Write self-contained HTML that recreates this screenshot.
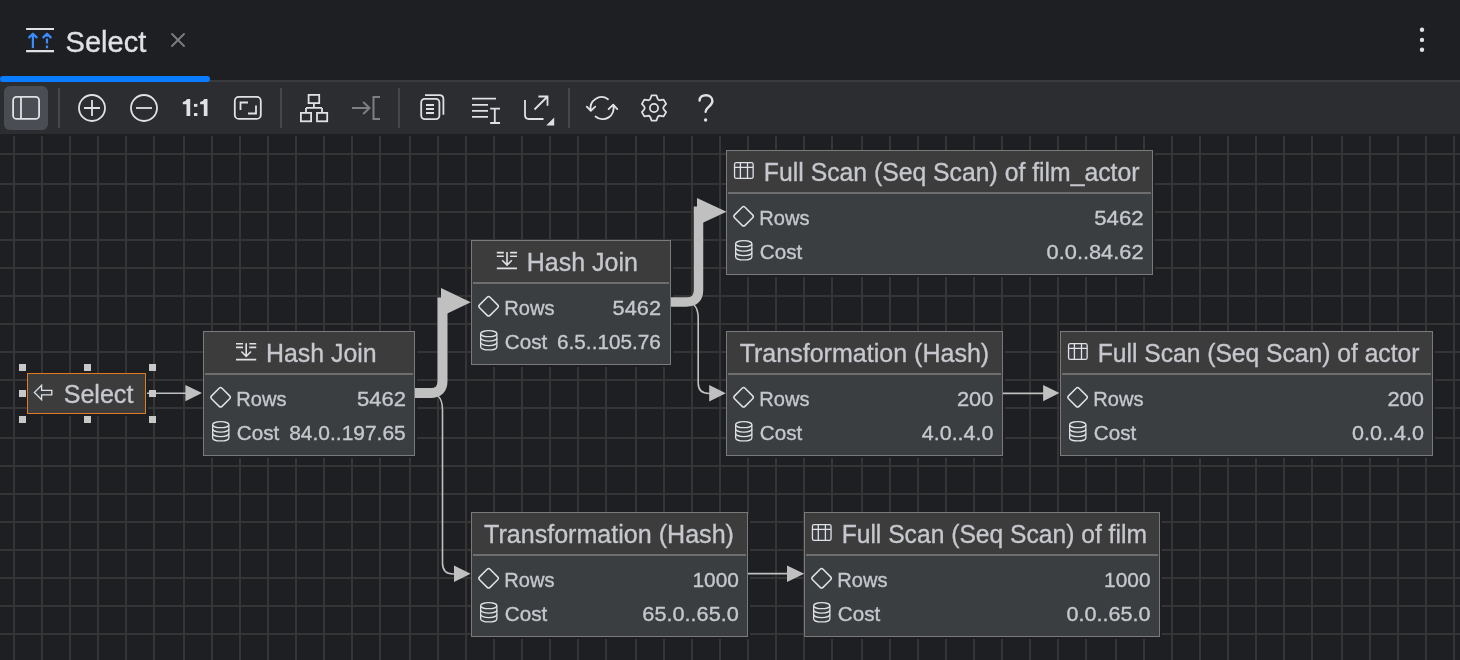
<!DOCTYPE html><html><head><meta charset="utf-8"><style>
*{box-sizing:border-box}
html,body{margin:0;padding:0}
body{width:1460px;height:660px;overflow:hidden;position:relative;background:#1e1f22;font-family:"Liberation Sans",sans-serif}
.abs{position:absolute}
.node{position:absolute;background:#3a3e41;border:1.5px solid #7a7a7a;box-shadow:2px 2px 0 #1e1f22}
.hdr{position:absolute;left:0;top:0;right:0;height:41px;background:#3c3c3c}
.sep{position:absolute;left:1px;right:1px;top:41px;height:2px;background:#6e6e6e}
.ico{position:absolute}
text{font-family:"Liberation Sans",sans-serif}
</style></head><body>
<div class="abs" style="left:0;top:0;width:1460px;height:80px;background:#1e1f22"></div>
<svg class="abs" style="left:0;top:0" width="70" height="70" viewBox="0 0 70 70"><g stroke="#dfe1e5" stroke-width="2.2" fill="none"><path d="M26.1 29 H54 M26.1 51.1 H54"/></g><g stroke="#3a8dff" stroke-width="2.2" fill="none" stroke-linecap="round" stroke-linejoin="round"><path d="M32.9 47.2 V34.2 M29.2 37.4 L32.9 33.7 L36.6 37.4"/><path d="M43.3 37.4 L47 33.7 L50.7 37.4"/></g><path d="M47 34 V36.8 M47 38.6 V43.4 M47 45.4 V48.3" stroke="#3a8dff" stroke-width="2.2" fill="none"/></svg>
<svg class="abs" style="left:169px;top:31px" width="18" height="18" viewBox="0 0 18 18"><path d="M3 3 L15 15 M15 3 L3 15" stroke="#7d7f84" stroke-width="1.8" stroke-linecap="round"/></svg>
<div class="abs" style="left:0;top:80px;width:1460px;height:2px;background:#393b40"></div>
<div class="abs" style="left:0;top:76px;width:210px;height:6px;border-radius:3px;background:#0a7cff"></div>
<svg class="abs" style="left:1410px;top:20px" width="24" height="40" viewBox="1410 20 24 40"><g fill="#dfe1e5"><circle cx="1422" cy="29.8" r="2.2"/><circle cx="1422" cy="39.9" r="2.2"/><circle cx="1422" cy="49.8" r="2.2"/></g></svg>

<div class="abs" style="left:0;top:82px;width:1460px;height:52px;background:#2b2d30"></div>
<div class="abs" style="left:4px;top:86px;width:44px;height:44px;border-radius:6px;background:#4b4d54"></div>
<svg class="abs" style="left:0;top:82px" width="1460" height="52" viewBox="0 82 1460 52">
<g fill="none" stroke="#dfe1e5" stroke-width="1.8">
<rect x="13.1" y="96.9" width="26" height="22" rx="3.5"/><path d="M21 96.9 V118.9"/>
<circle cx="92" cy="108" r="13"/><path d="M84 108 H100 M92 100 V116"/>
<circle cx="144" cy="108" r="13"/><path d="M136 108 H152"/>
<rect x="234.8" y="96.9" width="26" height="22" rx="4"/><path d="M240.5 110 V102.5 H248 M248 113.5 H256 V105.5"/>
<g stroke-width="1.8"><rect x="308.6" y="94.9" width="10.6" height="8.2"/><path d="M313.9 103.1 V107.9 M306 107.9 H322 M306 107.9 V112.5 M322 107.9 V112.5"/><rect x="300.9" y="112.9" width="10.2" height="8.4"/><rect x="317" y="112.9" width="10.2" height="8.4"/></g>
<rect x="421.2" y="98.9" width="18.2" height="20.2" rx="3.5"/><path d="M425 95.2 H439.4 Q443.4 95.2 443.4 99.2 V114.8"/><path d="M426 105 H434 M426 109 H434 M426 113 H434"/>
<path d="M472 98.7 H496 M472 104.8 H488 M472 110.8 H488 M472 116.9 H488 M494.8 108.7 V123 M490.2 108.7 H500 M490.2 123 H500"/>
<path d="M525 100 V115 Q525 119 529 119 H543.5 M534.5 109.5 L547.5 96.5 M538.4 96.5 H547.5 V105.8"/>
<path stroke-linecap="round" stroke-linejoin="round" d="M608 99.2 A11 11 0 0 0 590.8 110.5 M586.8 106.6 L590.8 110.8 L595.2 106.6 M595.5 116.5 A11 11 0 0 0 613.2 105 M608.6 109.1 L613.2 104.6 L617.3 109.1"/>
<path stroke-width="2.4" stroke-linecap="round" d="M699.6 100.5 C699.6 97 702.5 95.2 706 95.2 C709.6 95.2 712.4 97.6 712.4 101 C712.4 104 710.2 105.6 708.2 107.4 C706.6 108.9 705.6 110 705.6 111.8"/>
<path stroke-linejoin="round" d="M651.56 95.44 L656.44 95.44 L657.65 98.76 Q658.30 100.55 660.18 100.22 L663.66 99.60 L666.10 103.83 L663.83 106.54 Q662.60 108.00 663.83 109.46 L666.10 112.17 L663.66 116.40 L660.18 115.78 Q658.30 115.45 657.65 117.24 L656.44 120.56 L651.56 120.56 L650.35 117.24 Q649.70 115.45 647.82 115.78 L644.34 116.40 L641.90 112.17 L644.17 109.46 Q645.40 108.00 644.17 106.54 L641.90 103.83 L644.34 99.60 L647.82 100.22 Q649.70 100.55 650.35 98.76 L651.56 95.44 Z"/><circle cx="654" cy="108" r="4.1"/>
</g>
<path d="M546.2 125.6 H554.2 V117.6 Z" fill="#dfe1e5"/>
<g fill="#dfe1e5"><path d="M182.8 101.9 Q185.6 101.9 187.1 99 H190.2 V116 H186.5 V104.3 H182.8 Z"/><path d="M200.1 101.9 Q202.9 101.9 204.4 99 H207.5 V116 H203.8 V104.3 H200.1 Z"/><rect x="194" y="103.9" width="3.4" height="2.9"/><rect x="194" y="113" width="3.4" height="3"/></g>
<circle cx="705.6" cy="120" r="1.7" fill="#dfe1e5"/>
<g fill="none" stroke="#7d7f84" stroke-width="2"><path d="M352 108 H369.5 M363.2 102 L369.5 108 L363.2 114 M380 97 H373.5 V119 H380"/></g>
<g fill="#45474d"><rect x="58" y="88" width="2" height="40"/><rect x="280" y="88" width="2" height="40"/><rect x="398" y="88" width="2" height="40"/><rect x="568" y="88" width="2" height="40"/></g>
</svg>

<svg style="position:absolute;left:0;top:0" width="1460" height="660"><g fill="#353535"><rect x="13" y="136" width="2" height="524"/><rect x="41" y="136" width="2" height="524"/><rect x="69" y="136" width="2" height="524"/><rect x="97" y="136" width="2" height="524"/><rect x="125" y="136" width="2" height="524"/><rect x="153" y="136" width="2" height="524"/><rect x="183" y="136" width="2" height="524"/><rect x="211" y="136" width="2" height="524"/><rect x="239" y="136" width="2" height="524"/><rect x="267" y="136" width="2" height="524"/><rect x="295" y="136" width="2" height="524"/><rect x="323" y="136" width="2" height="524"/><rect x="351" y="136" width="2" height="524"/><rect x="379" y="136" width="2" height="524"/><rect x="409" y="136" width="2" height="524"/><rect x="437" y="136" width="2" height="524"/><rect x="465" y="136" width="2" height="524"/><rect x="493" y="136" width="2" height="524"/><rect x="521" y="136" width="2" height="524"/><rect x="549" y="136" width="2" height="524"/><rect x="577" y="136" width="2" height="524"/><rect x="605" y="136" width="2" height="524"/><rect x="635" y="136" width="2" height="524"/><rect x="663" y="136" width="2" height="524"/><rect x="691" y="136" width="2" height="524"/><rect x="719" y="136" width="2" height="524"/><rect x="747" y="136" width="2" height="524"/><rect x="775" y="136" width="2" height="524"/><rect x="803" y="136" width="2" height="524"/><rect x="831" y="136" width="2" height="524"/><rect x="861" y="136" width="2" height="524"/><rect x="889" y="136" width="2" height="524"/><rect x="917" y="136" width="2" height="524"/><rect x="945" y="136" width="2" height="524"/><rect x="973" y="136" width="2" height="524"/><rect x="1001" y="136" width="2" height="524"/><rect x="1029" y="136" width="2" height="524"/><rect x="1057" y="136" width="2" height="524"/><rect x="1085" y="136" width="2" height="524"/><rect x="1115" y="136" width="2" height="524"/><rect x="1143" y="136" width="2" height="524"/><rect x="1171" y="136" width="2" height="524"/><rect x="1199" y="136" width="2" height="524"/><rect x="1227" y="136" width="2" height="524"/><rect x="1255" y="136" width="2" height="524"/><rect x="1283" y="136" width="2" height="524"/><rect x="1311" y="136" width="2" height="524"/><rect x="1341" y="136" width="2" height="524"/><rect x="1369" y="136" width="2" height="524"/><rect x="1397" y="136" width="2" height="524"/><rect x="1425" y="136" width="2" height="524"/><rect x="1453" y="136" width="2" height="524"/><rect x="0" y="153" width="1460" height="2"/><rect x="0" y="183" width="1460" height="2"/><rect x="0" y="211" width="1460" height="2"/><rect x="0" y="239" width="1460" height="2"/><rect x="0" y="267" width="1460" height="2"/><rect x="0" y="295" width="1460" height="2"/><rect x="0" y="323" width="1460" height="2"/><rect x="0" y="351" width="1460" height="2"/><rect x="0" y="379" width="1460" height="2"/><rect x="0" y="407" width="1460" height="2"/><rect x="0" y="437" width="1460" height="2"/><rect x="0" y="465" width="1460" height="2"/><rect x="0" y="493" width="1460" height="2"/><rect x="0" y="521" width="1460" height="2"/><rect x="0" y="549" width="1460" height="2"/><rect x="0" y="577" width="1460" height="2"/><rect x="0" y="605" width="1460" height="2"/><rect x="0" y="633" width="1460" height="2"/></g></svg>
<div class="node" style="left:203px;top:331px;width:212px;height:125px">
<div class="hdr"></div>
<div class="sep"></div>
</div><div class="node" style="left:471px;top:240px;width:200px;height:125px">
<div class="hdr"></div>
<div class="sep"></div>
</div><div class="node" style="left:726px;top:150px;width:427px;height:125px">
<div class="hdr"></div>
<div class="sep"></div>
</div><div class="node" style="left:726px;top:331px;width:277px;height:125px">
<div class="hdr"></div>
<div class="sep"></div>
</div><div class="node" style="left:1060px;top:331px;width:373px;height:125px">
<div class="hdr"></div>
<div class="sep"></div>
</div><div class="node" style="left:471px;top:512px;width:277px;height:125px">
<div class="hdr"></div>
<div class="sep"></div>
</div><div class="node" style="left:804px;top:512px;width:356px;height:125px">
<div class="hdr"></div>
<div class="sep"></div>
</div>
<div class="abs" style="left:27px;top:373px;width:119px;height:41px;background:#3c3c3c;border:1.5px solid #e07b22;box-shadow:2px 2px 0 #1e1f22"></div>
<svg class="abs" style="left:0;top:0" width="1460" height="660">
<g fill="none" stroke="#c0c0c0">
<path d="M415 393 H430.5 Q442.5 393 442.5 381 V297.5" stroke-width="10"/>
<path d="M671 302 H686.5 Q698.5 302 698.5 290 V206.5" stroke-width="9.5"/>
<path d="M438 396 Q442.5 400 442.5 410 V563 Q442.5 574 453 574 H456" stroke-width="1.6"/>
<path d="M694 305 Q698.2 309 698.2 318 V383 Q698.2 393.5 709 393.5 H712" stroke-width="1.6"/>
<path d="M147 393.3 H188" stroke-width="1.6"/>
<path d="M1003 393.4 H1045" stroke-width="1.6"/>
<path d="M748 573.6 H789" stroke-width="1.6"/>
</g>
<g fill="#c0c0c0">
<path d='M441 288 L470.8 302.3 L441 316.6 Z'/>
<path d='M697 198 L726.5 211.7 L697 225.4 Z'/>
<path d="M470.6 573.8 L454.0 565.5 L454.0 582.0999999999999 Z"/>
<path d="M725.8 393.2 L709.1999999999999 384.9 L709.1999999999999 401.5 Z"/>
<path d="M1059.4 393.1 L1043.1000000000001 385.0 L1043.1000000000001 401.20000000000005 Z"/>
<path d="M804.2 573.8 L787.0 565.5 L787.0 582.0999999999999 Z"/>
<path d="M202 393.1 L185.4 384.90000000000003 L185.4 401.3 Z"/>
</g>
</svg>

<svg class="abs" style="left:32px;top:383px" width="22" height="19" viewBox="0 0 22 19"><path d="M2.4 9.4 L9.6 2.2 V7.3 H19.8 V11.8 H9.6 V16.6 Z" fill="#3b3e43" stroke="#dfe1e5" stroke-width="1.3" stroke-linejoin="miter"/></svg>
<div class="abs" style="left:19px;top:364px;width:7px;height:7px;background:#c8c8c8"></div><div class="abs" style="left:19px;top:390px;width:7px;height:7px;background:#c8c8c8"></div><div class="abs" style="left:19px;top:416px;width:7px;height:7px;background:#c8c8c8"></div><div class="abs" style="left:84px;top:364px;width:7px;height:7px;background:#c8c8c8"></div><div class="abs" style="left:84px;top:416px;width:7px;height:7px;background:#c8c8c8"></div><div class="abs" style="left:149px;top:364px;width:7px;height:7px;background:#c8c8c8"></div><div class="abs" style="left:149px;top:390px;width:7px;height:7px;background:#c8c8c8"></div><div class="abs" style="left:149px;top:416px;width:7px;height:7px;background:#c8c8c8"></div>
<svg class="abs" style="left:0;top:0" width="1460" height="660"><g stroke="#dfe1e5" stroke-width="1.6" fill="none" transform="translate(236,343.0)"><path d="M0 0.8 H7 M0 4.4 H7 M13.3 0.8 H20.2 M13.3 4.4 H20.2 M0 16.6 H20.2"/><path d="M10.2 0.3 V13.2 M5.4 8.5 L10.2 13.3 L15 8.5"/></g>
<rect x="213.20" y="389.90" width="14.8" height="14.8" rx="2" transform="rotate(45 220.6 397.3)" fill="none" stroke="#dfe1e5" stroke-width="1.5"/>
<g fill="none" stroke="#dfe1e5" stroke-width="1.3"><ellipse cx="220.75" cy="424.65" rx="8.1" ry="3.0"/><path d="M212.65 424.65 V437.95 A8.1 3.0 0 0 0 228.85 437.95 V424.65"/><path d="M212.65 429.04999999999995 A8.1 3.0 0 0 0 228.85 429.04999999999995"/><path d="M212.65 433.54999999999995 A8.1 3.0 0 0 0 228.85 433.54999999999995"/></g>
<g stroke="#dfe1e5" stroke-width="1.6" fill="none" transform="translate(496.8,251.8)"><path d="M0 0.8 H7 M0 4.4 H7 M13.3 0.8 H20.2 M13.3 4.4 H20.2 M0 16.6 H20.2"/><path d="M10.2 0.3 V13.2 M5.4 8.5 L10.2 13.3 L15 8.5"/></g>
<rect x="481.20" y="298.90" width="14.8" height="14.8" rx="2" transform="rotate(45 488.6 306.3)" fill="none" stroke="#dfe1e5" stroke-width="1.5"/>
<g fill="none" stroke="#dfe1e5" stroke-width="1.3"><ellipse cx="488.75" cy="333.65" rx="8.1" ry="3.0"/><path d="M480.65 333.65 V346.95 A8.1 3.0 0 0 0 496.85 346.95 V333.65"/><path d="M480.65 338.04999999999995 A8.1 3.0 0 0 0 496.85 338.04999999999995"/><path d="M480.65 342.54999999999995 A8.1 3.0 0 0 0 496.85 342.54999999999995"/></g>
<rect x="734.55" y="162.55" width="18.6" height="15.9" rx="1.8" fill="#3d3f44" stroke="#dfe1e5" stroke-width="1.3"/><path d="M734.55 167.4 H753.15 M740.4 162.55 V178.45000000000002 M747.5 162.55 V178.45000000000002" stroke="#dfe1e5" stroke-width="1.3" fill="none"/>
<rect x="736.20" y="208.90" width="14.8" height="14.8" rx="2" transform="rotate(45 743.6 216.3)" fill="none" stroke="#dfe1e5" stroke-width="1.5"/>
<g fill="none" stroke="#dfe1e5" stroke-width="1.3"><ellipse cx="743.75" cy="243.65" rx="8.1" ry="3.0"/><path d="M735.65 243.65 V256.95 A8.1 3.0 0 0 0 751.85 256.95 V243.65"/><path d="M735.65 248.05 A8.1 3.0 0 0 0 751.85 248.05"/><path d="M735.65 252.55 A8.1 3.0 0 0 0 751.85 252.55"/></g>
<rect x="736.20" y="389.90" width="14.8" height="14.8" rx="2" transform="rotate(45 743.6 397.3)" fill="none" stroke="#dfe1e5" stroke-width="1.5"/>
<g fill="none" stroke="#dfe1e5" stroke-width="1.3"><ellipse cx="743.75" cy="424.65" rx="8.1" ry="3.0"/><path d="M735.65 424.65 V437.95 A8.1 3.0 0 0 0 751.85 437.95 V424.65"/><path d="M735.65 429.04999999999995 A8.1 3.0 0 0 0 751.85 429.04999999999995"/><path d="M735.65 433.54999999999995 A8.1 3.0 0 0 0 751.85 433.54999999999995"/></g>
<rect x="1068.5500000000002" y="343.55" width="18.6" height="15.9" rx="1.8" fill="#3d3f44" stroke="#dfe1e5" stroke-width="1.3"/><path d="M1068.5500000000002 348.40000000000003 H1087.15 M1074.4 343.55 V359.45000000000005 M1081.5 343.55 V359.45000000000005" stroke="#dfe1e5" stroke-width="1.3" fill="none"/>
<rect x="1070.20" y="389.90" width="14.8" height="14.8" rx="2" transform="rotate(45 1077.6 397.3)" fill="none" stroke="#dfe1e5" stroke-width="1.5"/>
<g fill="none" stroke="#dfe1e5" stroke-width="1.3"><ellipse cx="1077.75" cy="424.65" rx="8.1" ry="3.0"/><path d="M1069.65 424.65 V437.95 A8.1 3.0 0 0 0 1085.85 437.95 V424.65"/><path d="M1069.65 429.04999999999995 A8.1 3.0 0 0 0 1085.85 429.04999999999995"/><path d="M1069.65 433.54999999999995 A8.1 3.0 0 0 0 1085.85 433.54999999999995"/></g>
<rect x="481.20" y="570.90" width="14.8" height="14.8" rx="2" transform="rotate(45 488.6 578.3)" fill="none" stroke="#dfe1e5" stroke-width="1.5"/>
<g fill="none" stroke="#dfe1e5" stroke-width="1.3"><ellipse cx="488.75" cy="605.65" rx="8.1" ry="3.0"/><path d="M480.65 605.65 V618.9499999999999 A8.1 3.0 0 0 0 496.85 618.9499999999999 V605.65"/><path d="M480.65 610.05 A8.1 3.0 0 0 0 496.85 610.05"/><path d="M480.65 614.55 A8.1 3.0 0 0 0 496.85 614.55"/></g>
<rect x="812.4499999999999" y="524.55" width="18.6" height="15.9" rx="1.8" fill="#3d3f44" stroke="#dfe1e5" stroke-width="1.3"/><path d="M812.4499999999999 529.4 H831.05 M818.3 524.55 V540.4499999999999 M825.4 524.55 V540.4499999999999" stroke="#dfe1e5" stroke-width="1.3" fill="none"/>
<rect x="814.20" y="570.90" width="14.8" height="14.8" rx="2" transform="rotate(45 821.6 578.3)" fill="none" stroke="#dfe1e5" stroke-width="1.5"/>
<g fill="none" stroke="#dfe1e5" stroke-width="1.3"><ellipse cx="821.75" cy="605.65" rx="8.1" ry="3.0"/><path d="M813.65 605.65 V618.9499999999999 A8.1 3.0 0 0 0 829.85 618.9499999999999 V605.65"/><path d="M813.65 610.05 A8.1 3.0 0 0 0 829.85 610.05"/><path d="M813.65 614.55 A8.1 3.0 0 0 0 829.85 614.55"/></g></svg>
<svg class="abs" style="left:0;top:0;will-change:transform" width="1460" height="660"><text x="265.95" y="362.30" font-size="26.60" fill="#c6c8ce" stroke="#c6c8ce" stroke-width="0.35" textLength="110.76" lengthAdjust="spacingAndGlyphs">Hash Join</text>
<text x="236.34" y="406.00" font-size="20.20" fill="#c6c8ce" stroke="#c6c8ce" stroke-width="0.35" textLength="50.17" lengthAdjust="spacingAndGlyphs">Rows</text>
<text x="236.77" y="440.00" font-size="20.20" fill="#c6c8ce" stroke="#c6c8ce" stroke-width="0.35" textLength="42.41" lengthAdjust="spacingAndGlyphs">Cost</text>
<text x="357.02" y="406.00" font-size="20.50" fill="#c6c8ce" stroke="#c6c8ce" stroke-width="0.35" textLength="49.03" lengthAdjust="spacingAndGlyphs">5462</text>
<text x="289.21" y="440.00" font-size="20.50" fill="#c6c8ce" stroke="#c6c8ce" stroke-width="0.35" textLength="116.55" lengthAdjust="spacingAndGlyphs">84.0..197.65</text>
<text x="526.84" y="271.10" font-size="26.60" fill="#c6c8ce" stroke="#c6c8ce" stroke-width="0.35" textLength="111.07" lengthAdjust="spacingAndGlyphs">Hash Join</text>
<text x="504.34" y="315.00" font-size="20.20" fill="#c6c8ce" stroke="#c6c8ce" stroke-width="0.35" textLength="50.17" lengthAdjust="spacingAndGlyphs">Rows</text>
<text x="504.77" y="349.00" font-size="20.20" fill="#c6c8ce" stroke="#c6c8ce" stroke-width="0.35" textLength="42.41" lengthAdjust="spacingAndGlyphs">Cost</text>
<text x="612.63" y="315.00" font-size="20.50" fill="#c6c8ce" stroke="#c6c8ce" stroke-width="0.35" textLength="48.41" lengthAdjust="spacingAndGlyphs">5462</text>
<text x="557.06" y="349.00" font-size="20.50" fill="#c6c8ce" stroke="#c6c8ce" stroke-width="0.35" textLength="103.76" lengthAdjust="spacingAndGlyphs">6.5..105.76</text>
<text x="763.86" y="181.10" font-size="26.60" fill="#c6c8ce" stroke="#c6c8ce" stroke-width="0.35" textLength="375.63" lengthAdjust="spacingAndGlyphs">Full Scan (Seq Scan) of film_actor</text>
<text x="759.34" y="225.00" font-size="20.20" fill="#c6c8ce" stroke="#c6c8ce" stroke-width="0.35" textLength="50.17" lengthAdjust="spacingAndGlyphs">Rows</text>
<text x="759.77" y="259.00" font-size="20.20" fill="#c6c8ce" stroke="#c6c8ce" stroke-width="0.35" textLength="42.41" lengthAdjust="spacingAndGlyphs">Cost</text>
<text x="1094.31" y="225.00" font-size="20.50" fill="#c6c8ce" stroke="#c6c8ce" stroke-width="0.35" textLength="49.24" lengthAdjust="spacingAndGlyphs">5462</text>
<text x="1046.63" y="259.00" font-size="20.50" fill="#c6c8ce" stroke="#c6c8ce" stroke-width="0.35" textLength="96.88" lengthAdjust="spacingAndGlyphs">0.0..84.62</text>
<text x="739.64" y="362.10" font-size="26.60" fill="#c6c8ce" stroke="#c6c8ce" stroke-width="0.35" textLength="249.59" lengthAdjust="spacingAndGlyphs">Transformation (Hash)</text>
<text x="759.34" y="406.00" font-size="20.20" fill="#c6c8ce" stroke="#c6c8ce" stroke-width="0.35" textLength="50.17" lengthAdjust="spacingAndGlyphs">Rows</text>
<text x="759.77" y="440.00" font-size="20.20" fill="#c6c8ce" stroke="#c6c8ce" stroke-width="0.35" textLength="42.41" lengthAdjust="spacingAndGlyphs">Cost</text>
<text x="956.91" y="406.00" font-size="20.50" fill="#c6c8ce" stroke="#c6c8ce" stroke-width="0.35" textLength="36.54" lengthAdjust="spacingAndGlyphs">200</text>
<text x="921.82" y="440.00" font-size="20.50" fill="#c6c8ce" stroke="#c6c8ce" stroke-width="0.35" textLength="71.61" lengthAdjust="spacingAndGlyphs">4.0..4.0</text>
<text x="1097.67" y="362.10" font-size="26.60" fill="#c6c8ce" stroke="#c6c8ce" stroke-width="0.35" textLength="321.79" lengthAdjust="spacingAndGlyphs">Full Scan (Seq Scan) of actor</text>
<text x="1093.34" y="406.00" font-size="20.20" fill="#c6c8ce" stroke="#c6c8ce" stroke-width="0.35" textLength="50.17" lengthAdjust="spacingAndGlyphs">Rows</text>
<text x="1093.77" y="440.00" font-size="20.20" fill="#c6c8ce" stroke="#c6c8ce" stroke-width="0.35" textLength="42.41" lengthAdjust="spacingAndGlyphs">Cost</text>
<text x="1387.41" y="406.00" font-size="20.50" fill="#c6c8ce" stroke="#c6c8ce" stroke-width="0.35" textLength="36.54" lengthAdjust="spacingAndGlyphs">200</text>
<text x="1352.04" y="440.00" font-size="20.50" fill="#c6c8ce" stroke="#c6c8ce" stroke-width="0.35" textLength="71.89" lengthAdjust="spacingAndGlyphs">0.0..4.0</text>
<text x="484.04" y="543.10" font-size="26.60" fill="#c6c8ce" stroke="#c6c8ce" stroke-width="0.35" textLength="249.90" lengthAdjust="spacingAndGlyphs">Transformation (Hash)</text>
<text x="504.34" y="587.00" font-size="20.20" fill="#c6c8ce" stroke="#c6c8ce" stroke-width="0.35" textLength="50.17" lengthAdjust="spacingAndGlyphs">Rows</text>
<text x="504.77" y="621.00" font-size="20.20" fill="#c6c8ce" stroke="#c6c8ce" stroke-width="0.35" textLength="42.41" lengthAdjust="spacingAndGlyphs">Cost</text>
<text x="692.44" y="587.00" font-size="20.50" fill="#c6c8ce" stroke="#c6c8ce" stroke-width="0.35" textLength="46.39" lengthAdjust="spacingAndGlyphs">1000</text>
<text x="642.32" y="621.00" font-size="20.50" fill="#c6c8ce" stroke="#c6c8ce" stroke-width="0.35" textLength="96.52" lengthAdjust="spacingAndGlyphs">65.0..65.0</text>
<text x="841.67" y="543.10" font-size="26.60" fill="#c6c8ce" stroke="#c6c8ce" stroke-width="0.35" textLength="305.27" lengthAdjust="spacingAndGlyphs">Full Scan (Seq Scan) of film</text>
<text x="837.34" y="587.00" font-size="20.20" fill="#c6c8ce" stroke="#c6c8ce" stroke-width="0.35" textLength="50.17" lengthAdjust="spacingAndGlyphs">Rows</text>
<text x="837.77" y="621.00" font-size="20.20" fill="#c6c8ce" stroke="#c6c8ce" stroke-width="0.35" textLength="42.41" lengthAdjust="spacingAndGlyphs">Cost</text>
<text x="1104.14" y="587.00" font-size="20.50" fill="#c6c8ce" stroke="#c6c8ce" stroke-width="0.35" textLength="46.39" lengthAdjust="spacingAndGlyphs">1000</text>
<text x="1066.64" y="621.00" font-size="20.50" fill="#c6c8ce" stroke="#c6c8ce" stroke-width="0.35" textLength="83.92" lengthAdjust="spacingAndGlyphs">0.0..65.0</text>
<text x="63.67" y="402.90" font-size="25.70" fill="#c6c8ce" stroke="#c6c8ce" stroke-width="0.35" textLength="69.70" lengthAdjust="spacingAndGlyphs">Select</text>
<text x="65.59" y="52.10" font-size="29.20" fill="#dfe1e5" stroke="#dfe1e5" stroke-width="0.35" textLength="80.71" lengthAdjust="spacingAndGlyphs">Select</text></svg>
</body></html>
